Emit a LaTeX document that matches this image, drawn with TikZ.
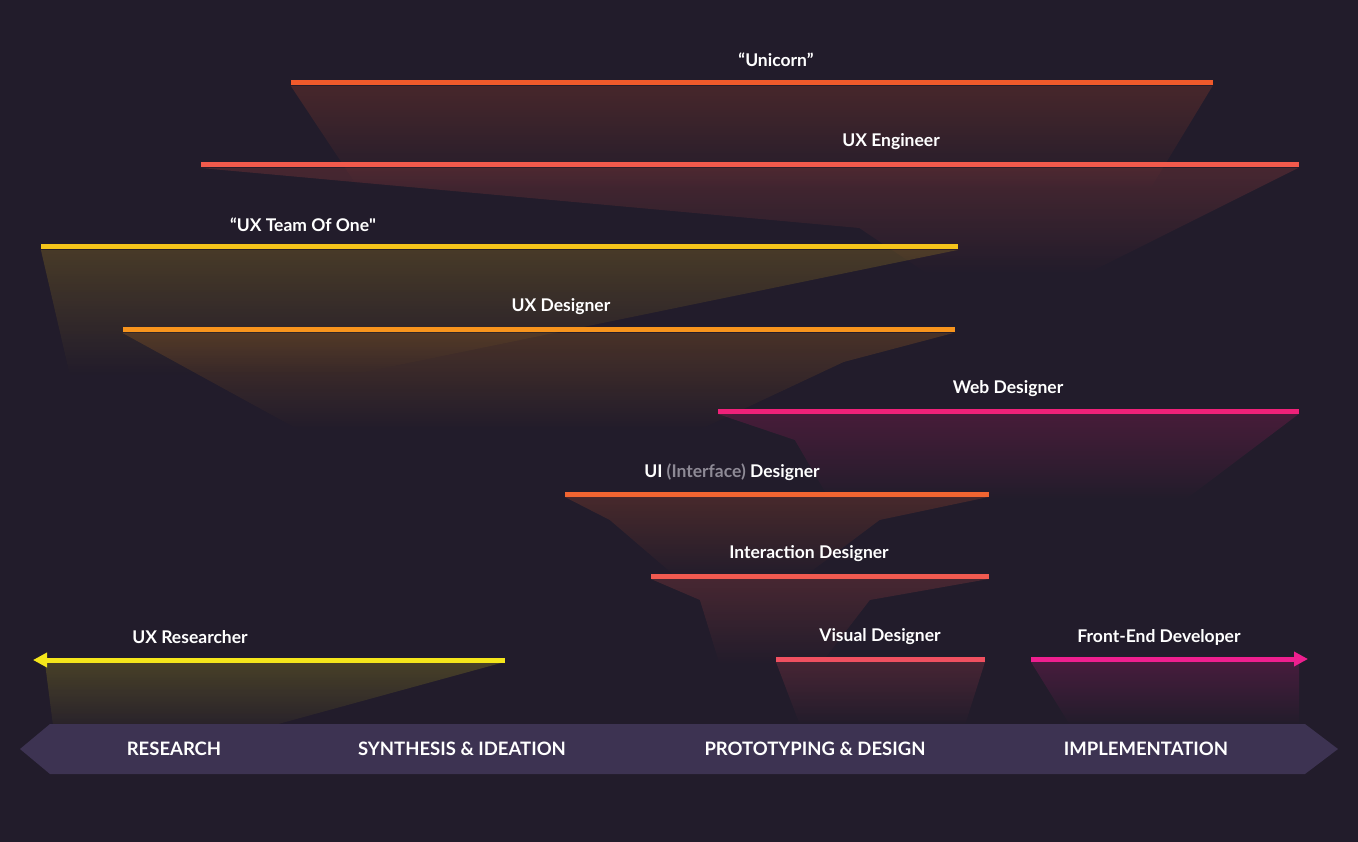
\documentclass[tikz,border=0pt]{standalone}
\usepackage{fontspec}
\setmainfont{Lato}
\newfontfamily\plainlato{Lato}
\usetikzlibrary{positioning,arrows.meta,fadings}
\definecolor{bgc}{HTML}{221C2B}
\definecolor{bandc}{HTML}{3D3352}
\definecolor{cunicorn}{HTML}{F15A2B}
\definecolor{cengineer}{HTML}{F25A4C}
\definecolor{cteam}{HTML}{F4C41A}
\definecolor{cuxd}{HTML}{F7941D}
\definecolor{cweb}{HTML}{EF2179}
\definecolor{cui}{HTML}{F26531}
\definecolor{cixd}{HTML}{F15A50}
\definecolor{cvis}{HTML}{F05060}
\definecolor{cfront}{HTML}{EE1F8F}
\definecolor{cres}{HTML}{F5E61B}
\definecolor{cgrey}{HTML}{8E8A96}
\begin{document}
\begin{tikzpicture}[x=1pt,y=-1pt,
    bar/.style={line width=5pt},
    glow/.style={fill=#1,fill opacity=0.18,path fading=south},
    role/.style={text=white,font=\bfseries\fontsize{17.5}{20}\selectfont},
    stage/.style={text=white,font=\bfseries\fontsize{18.5}{20}\selectfont}]
  \fill[bgc] (0,0) rectangle (1358,842);
  \useasboundingbox (0,0) rectangle (1358,842);

  % shadows
  \fill[glow=cunicorn] (291,86) -- (1213,86) -- (1150,190) -- (360,190) -- cycle;
  \fill[glow=cengineer] (201,168) -- (1299,168) -- (1085,275) -- (930,275) -- (860,228) -- cycle;
  \fill[glow=cteam] (41,250) -- (958,250) -- (350,375) -- (70,375) -- cycle;
  \fill[glow=cuxd] (123,333) -- (955,333) -- (845,362) -- (700,430) -- (300,430) -- cycle;
  \fill[glow=cweb] (718,414) -- (1299,414) -- (1185,500) -- (830,500) -- (795,440) -- cycle;
  \fill[glow=cui] (565,497) -- (989,497) -- (880,520) -- (800,580) -- (680,580) -- (610,520) -- cycle;
  \fill[glow=cixd] (651,579) -- (989,579) -- (870,600) -- (820,665) -- (720,665) -- (700,600) -- cycle;
  \fill[glow=cvis] (776,662) -- (985,662) -- (965,725) -- (800,725) -- cycle;
  \fill[glow=cfront] (1031,662) -- (1299,662) -- (1299,725) -- (1070,725) -- cycle;
  \fill[glow=cres] (45,662) -- (505,662) -- (220,740) -- (55,740) -- cycle;

  % stage band
  \fill[bandc] (20,749) -- (50,724) -- (1305,724) -- (1338,749) -- (1305,774) -- (50,774) -- cycle;
  \node[stage] (research) at (174,749) {RESEARCH};
  \node[stage] (synth) at (462,749) {SYNTHESIS \& IDEATION};
  \node[stage] (proto) at (815,749) {PROTOTYPING \& DESIGN};
  \node[stage] (impl) at (1146,749) {IMPLEMENTATION};

  % bar ends
  \coordinate (uni1) at (291,83);  \coordinate (uni2) at (1213,83);
  \coordinate (eng1) at (201,165); \coordinate (eng2) at (1299,165);
  \coordinate (team1) at (41,247); \coordinate (team2) at (958,247);
  \coordinate (uxd1) at (123,330); \coordinate (uxd2) at (955,330);
  \coordinate (web1) at (718,411); \coordinate (web2) at (1299,411);
  \coordinate (ui1) at (565,494);  \coordinate (ui2) at (989,494);
  \coordinate (ixd1) at (651,576); \coordinate (ixd2) at (989,576);
  \coordinate (vis1) at (776,659); \coordinate (vis2) at (985,659);
  \coordinate (fed1) at (1031,659); \coordinate (fed2) at (1308,659);
  \coordinate (res1) at (33,660);  \coordinate (res2) at (505,660);

  \draw[bar,cunicorn] (uni1) -- (uni2);
  \draw[bar,cengineer] (eng1) -- (eng2);
  \draw[bar,cteam] (team1) -- (team2);
  \draw[bar,cuxd] (uxd1) -- (uxd2);
  \draw[bar,cweb] (web1) -- (web2);
  \draw[bar,cui] (ui1) -- (ui2);
  \draw[bar,cixd] (ixd1) -- (ixd2);
  \draw[bar,cvis] (vis1) -- (vis2);
  \draw[bar,cfront,-{Triangle[length=14pt,width=14pt]}] (fed1) -- (fed2);
  \draw[bar,cres,-{Triangle[length=14pt,width=14pt]}] (res2) -- (res1);

  % labels
  \node[role] (lunicorn) at (776,60) {“Unicorn”};
  \node[role] (lteam) at (303,225) {“UX Team Of One{\plainlato\bfseries "}};
  \node[role] (lengineer) at (891,142) {UX Engineer};
  \node[role] (luxd) at (561,307) {UX Designer};
  \node[role] (lweb) at (1008,389) {Web Designer};
  \node[role] (lui) at (732,472) {UI \textcolor{cgrey}{(Interface)} Designer};
  \node[role] (lixd) at (809,554) {Interaction Designer};
  \node[role] (lvis) at (880,637) {Visual Designer};
  \node[role] (lfront) at (1159,637) {Front-End Developer};
  \node[role] (lres) at (190,637) {UX Researcher};
\end{tikzpicture}
\end{document}
